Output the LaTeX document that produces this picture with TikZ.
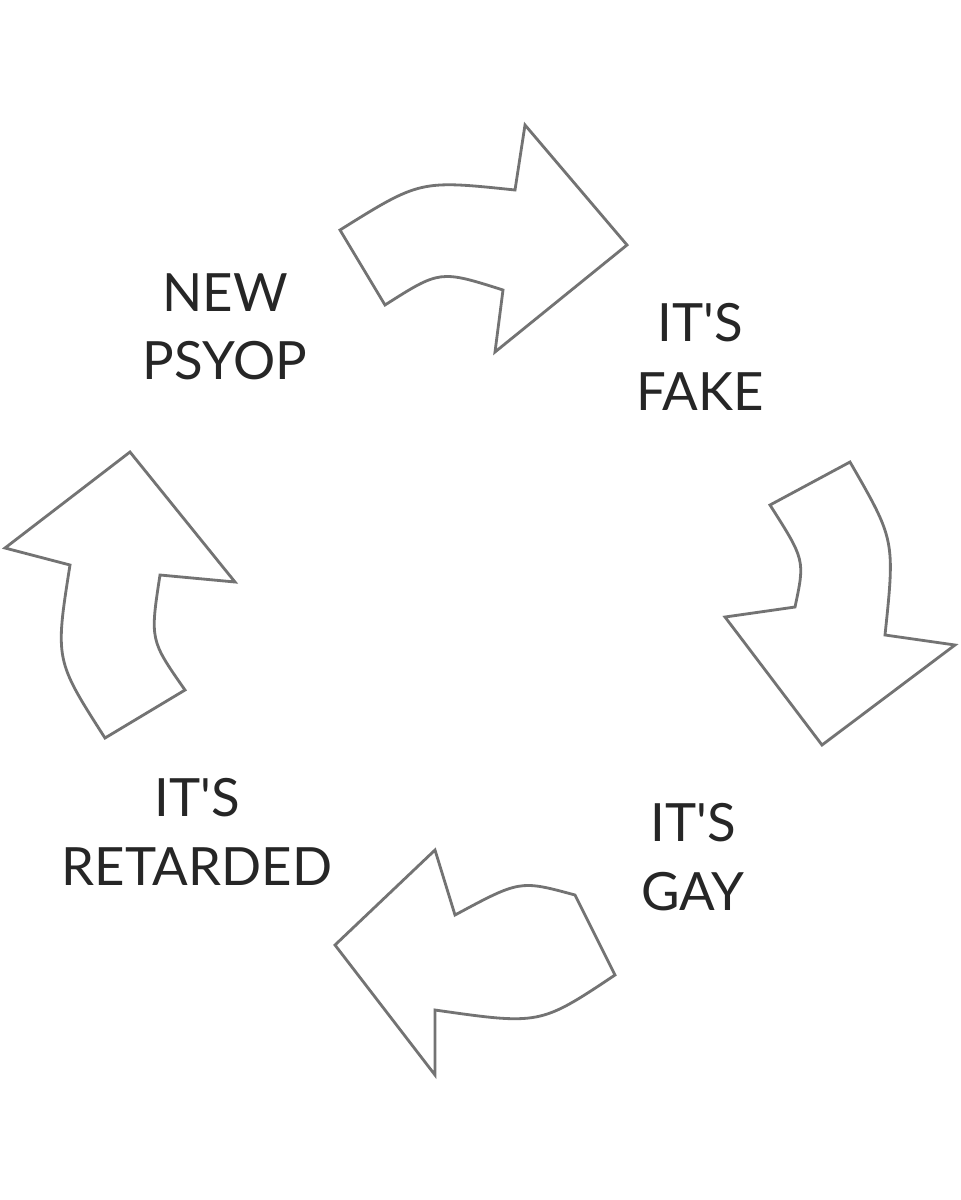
\documentclass[tikz,border=0pt]{standalone}
\usepackage{fontspec}
\setmainfont{Lato}
\begin{document}
\begin{tikzpicture}[
    x=0.01cm,y=-0.01cm,
    label/.style={align=center,font=\fontsize{15}{19.5}\selectfont,text=black!85},
    block/.style={draw=black!55,line width=0.8pt,fill=white,line join=miter}
]
\useasboundingbox (0,0) rectangle (960,1200);

% Top arrow
\draw[block] (340,230) .. controls (420,180) .. (515,190) -- (525,125) -- (627,245)
  -- (495,352) -- (503,290) .. controls (440,270) .. (385,305) -- cycle;

% Right arrow
\draw[block] (850,462) .. controls (895,540) .. (885,635) -- (955,645) -- (822,745)
  -- (725,617) -- (795,607) .. controls (805,560) .. (770,505) -- cycle;

% Bottom arrow
\draw[block] (615,975) .. controls (540,1025) .. (435,1010) -- (435,1075) -- (335,945)
  -- (435,850) -- (455,915) .. controls (520,880) .. (575,895) -- cycle;

% Left arrow
\draw[block] (105,738) .. controls (55,660) .. (70,565) -- (5,548) -- (130,452)
  -- (235,582) -- (160,575) .. controls (150,640) .. (185,690) -- cycle;

% Labels
\node[label] (psyop) at (225,327) {NEW\\PSYOP};
\node[label] (fake) at (700,357) {IT\textquotesingle S\\FAKE};
\node[label] (gay) at (693,857) {IT\textquotesingle S\\GAY};
\node[label] (retarded) at (197,832) {IT\textquotesingle S\\RETARDED};

\end{tikzpicture}
\end{document}
